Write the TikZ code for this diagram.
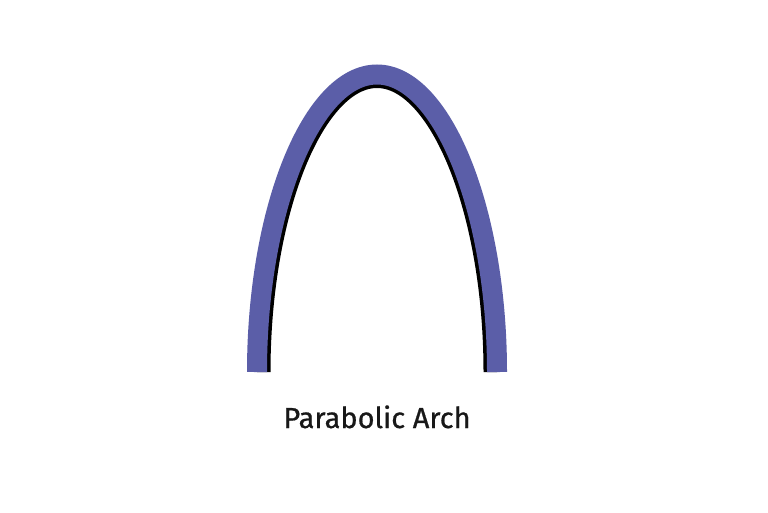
\documentclass[tikz,border=0pt]{standalone}
\usepackage{fontspec}
\setmainfont{Fira Sans}
\newfontfamily\capfont[FakeBold=0.7]{Fira Sans}
\definecolor{archblue}{RGB}{91,94,168}
\definecolor{textdark}{RGB}{24,24,24}
\tikzset{
  archband/.style={draw=archblue, line width=20pt, line cap=butt},
  archedge/.style={draw=black, line width=27pt, line cap=butt},
  caption/.style={font=\capfont\fontsize{29}{34}\selectfont, text=textdark, inner sep=0pt, anchor=base}
}
\begin{document}
\begin{tikzpicture}[x=1pt,y=-1pt]
\useasboundingbox (0,0) rectangle (768,512);
\fill[white] (0,0) rectangle (768,512);
\def\archpath{(257,372) .. controls (257,210) and (312,74.5) .. (377,74.5) .. controls (442,74.5) and (497,210) .. (497,372)}
\begin{scope}
  \clip \archpath -- cycle;
  \draw[archedge] \archpath;
\end{scope}
\draw[archband] \archpath;
\node[caption] (label) at (377,428) {Parabolic Arch};
\end{tikzpicture}
\end{document}
